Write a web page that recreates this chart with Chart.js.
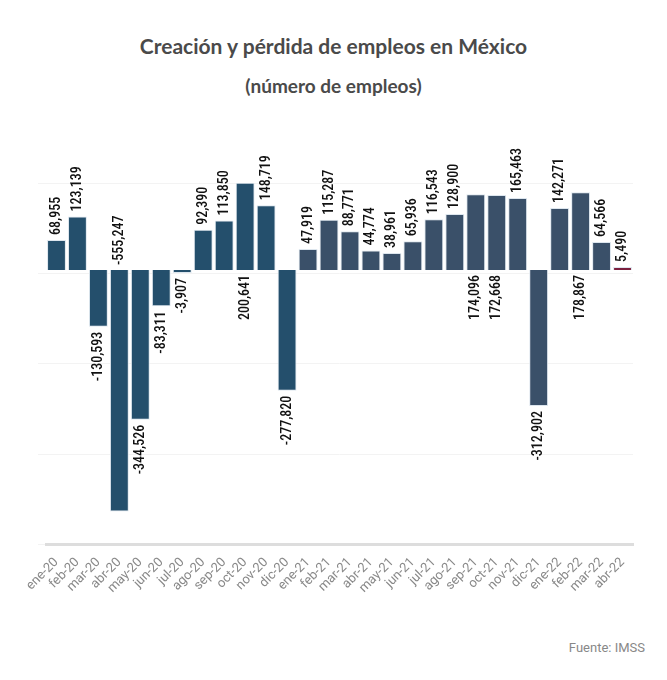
<!DOCTYPE html>
<html><head><meta charset="utf-8">
<script src="https://cdn.jsdelivr.net/npm/chart.js@4"></script>
<style>
body{margin:0;background:#fff;font-family:Roboto,sans-serif;}
#wrap{position:absolute;left:0;top:0;width:667px;height:680px;}
.t{position:absolute;left:0;width:667px;text-align:center;color:#4a4a4a;font-weight:bold;font-family:Lato,Roboto,sans-serif;}
</style></head><body>
<div class="t" style="top:33px;font-size:21px;">Creación y pérdida de empleos en México</div>
<div class="t" style="top:74px;font-size:19px;">(número de empleos)</div>
<div style="position:absolute;right:22px;top:640px;color:#888;font-size:13px;">Fuente: IMSS</div>
<div id="wrap"><canvas id="c"></canvas></div>
<script>
const categories=["ene-20","feb-20","mar-20","abr-20","may-20","jun-20","jul-20","ago-20","sep-20","oct-20","nov-20","dic-20","ene-21","feb-21","mar-21","abr-21","may-21","jun-21","jul-21","ago-21","sep-21","oct-21","nov-21","dic-21","ene-22","feb-22","mar-22","abr-22"];
const values=[68955,123139,-130593,-555247,-344526,-83311,-3907,92390,113850,200641,148719,-277820,47919,115287,88771,44774,38961,65936,116543,128900,174096,172668,165463,-312902,142271,178867,64566,5490];
const colors=categories.map((c,i)=>i===27?'#7b1f3e':(c.endsWith('20')?'#244f6c':'#3a5069'));
const labelPlugin={id:'lbl',afterDatasetsDraw(chart){
 const ctx=chart.ctx,meta=chart.getDatasetMeta(0),y0=chart.scales.y.getPixelForValue(0);
 ctx.save();ctx.font='500 14px "Roboto Condensed", Roboto';ctx.fillStyle='#111';ctx.textBaseline='middle';
 meta.data.forEach((b,i)=>{const v=values[i];const t=v.toLocaleString('en-US');
  let y,align;
  if(v>=0){ if(v>170000){y=y0+5;align='right';}else{y=b.y-5;align='left';} }
  else { if(v<-500000){y=y0-5;align='left';}else{y=b.y+5;align='right';} }
  ctx.save();ctx.translate(b.x,y);ctx.rotate(-Math.PI/2);ctx.textAlign=align;ctx.fillText(t,0,0);ctx.restore();});
 ctx.restore();}};
new Chart(document.getElementById('c'),{type:'bar',
 data:{labels:categories,datasets:[{data:values,backgroundColor:colors,borderColor:'#dde6ee',borderWidth:1,barPercentage:0.9,categoryPercentage:1,minBarLength:3}]},
 options:{responsive:true,maintainAspectRatio:false,animation:false,
  layout:{padding:{top:183,left:38,right:34,bottom:82}},
  plugins:{legend:{display:false},tooltip:{enabled:false}},
  scales:{
   x:{grid:{display:false},border:{color:'#ddd',width:3},ticks:{autoSkip:false,color:'#888',font:{size:13,family:'Roboto'},maxRotation:45,minRotation:45,padding:2}},
   y:{min:-632000,max:200000,ticks:{display:false,stepSize:200000},grid:{color:'#f3f3f3'},border:{display:false}}
  }},
 plugins:[labelPlugin]});
</script></body></html>
